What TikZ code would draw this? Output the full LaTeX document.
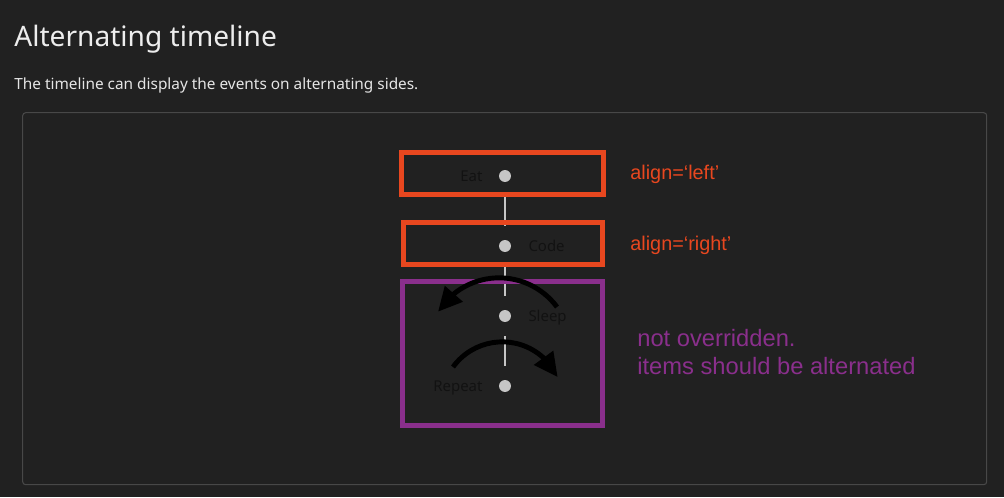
\documentclass[tikz,border=0pt]{standalone}
\usepackage{fontspec}
\setmainfont{Noto Sans}
\newfontfamily\notefont{Liberation Sans}
\usetikzlibrary{positioning,arrows.meta,bending}
\definecolor{pagebg}{HTML}{212121}
\definecolor{panelline}{HTML}{484848}
\definecolor{dotgrey}{HTML}{C6C6C6}
\definecolor{labeltext}{HTML}{121212}
\definecolor{notered}{HTML}{E8471F}
\definecolor{notepurple}{HTML}{8A2F8C}
\tikzset{
  tldot/.style={circle, fill=dotgrey, inner sep=0pt, minimum size=6.8pt},
  tlline/.style={dotgrey, line width=1.1pt, shorten >=7.9pt, shorten <=7.9pt},
  tllabel/.style={text=labeltext, font=\fontsize{8.5}{10}\selectfont,
    inner sep=0pt, text height=6pt, text depth=0pt},
  markbox/.style={line width=2.8pt},
  note/.style={font=\notefont\fontsize{11.3}{16.4}\selectfont, inner sep=0pt},
  swaparrow/.style={line width=2.8pt, -{Triangle[length=13.6pt, width=13pt, flex]}}
}
\begin{document}
\begin{tikzpicture}[x=0.02cm, y=-0.02cm]
\fill[pagebg] (0,0) rectangle (1004,497);
\draw[panelline, line width=0.6pt, rounded corners=1.7pt] (22.7,112.7) rectangle (986.7,484.7);
% heading
\node[anchor=base west, inner sep=0pt, text=white!93!black, font=\fontsize{16}{19}\selectfont]
  (title) at (14,46.7) {Alternating timeline};
\node[anchor=base west, inner sep=0pt, text=white!90!black, font=\fontsize{8.75}{10}\selectfont]
  (subtitle) at (14,89) {The timeline can display the events on alternating sides.};
% timeline
\node[tldot] (eatdot) at (505,176) {};
\node[tldot] (codedot) at (505,246) {};
\node[tldot] (sleepdot) at (505,316) {};
\node[tldot] (repeatdot) at (505,386) {};
\draw[tlline] (eatdot) -- (codedot);
\draw[tlline] (codedot) -- (sleepdot);
\draw[tlline] (sleepdot) -- (repeatdot);
\node[tllabel, left=9pt of eatdot] (eat) {Eat};
\node[tllabel, right=9.6pt of codedot] (code) {Code};
\node[tllabel, right=9.6pt of sleepdot] (sleep) {Sleep};
\node[tllabel, left=9pt of repeatdot] (repeat) {Repeat};
% annotations
\draw[markbox, notered] (401.5,152.5) rectangle (603.5,194.5);
\draw[markbox, notered] (403.5,222.5) rectangle (602.5,264.5);
\draw[markbox, notepurple] (402.5,281.5) rectangle (602.5,425.5);
\node[note, anchor=base west, text=notered] (leftnote) at (630,179) {align=‘left’};
\node[note, anchor=base west, text=notered] (rightnote) at (630,250.5) {align=‘right’};
\node[note, anchor=west, align=left, text=notepurple, font=\notefont\fontsize{13.5}{16.4}\selectfont]
  (altnote) at (637,352) {not overridden.\\items should be alternated};
\coordinate (sleepfrom) at (557,307);
\coordinate (repeatfrom) at (453,367);
\draw[swaparrow] (sleepfrom) arc[start angle=-36.5, end angle=-148, radius=72];
\draw[swaparrow] (repeatfrom) arc[start angle=-144, end angle=-25, radius=61];
\end{tikzpicture}
\end{document}
